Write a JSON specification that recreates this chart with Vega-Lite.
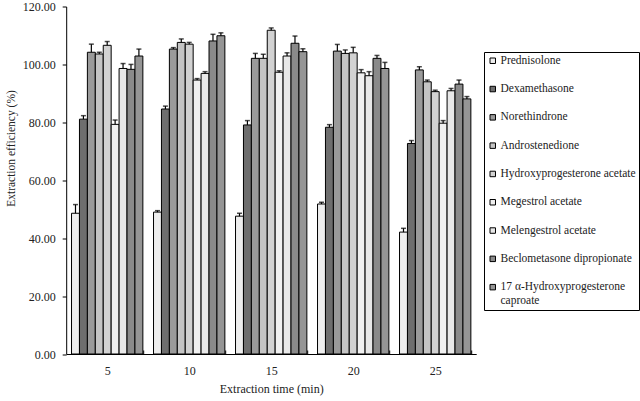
{
  "$schema": "https://vega.github.io/schema/vega-lite/v6.json",
  "width": 410,
  "height": 347.5,
  "autosize": {"type": "none"},
  "padding": {"left": 66.2, "top": 6.5, "right": 163.8, "bottom": 47},
  "background": "white",
  "config": {
    "view": {"stroke": null},
    "font": "Liberation Serif",
    "axis": {"labelFont": "Liberation Serif", "titleFont": "Liberation Serif", "labelFontSize": 12, "titleFontSize": 12, "titleFontWeight": "normal", "labelColor": "#222", "titleColor": "#222", "domainColor": "black", "tickColor": "black", "grid": false},
    "legend": {"labelFont": "Liberation Serif", "labelFontSize": 11.5, "labelColor": "#222"}
  },
  "data": {"values": [
    {"time": "5", "compound": "Prednisolone", "efficiency": 48.6, "upper": 51.6},
    {"time": "5", "compound": "Dexamethasone", "efficiency": 81.1, "upper": 82.3},
    {"time": "5", "compound": "Norethindrone", "efficiency": 104.2, "upper": 107.0},
    {"time": "5", "compound": "Androstenedione", "efficiency": 103.6, "upper": 104.2},
    {"time": "5", "compound": "Hydroxyprogesterone acetate", "efficiency": 106.6, "upper": 107.9},
    {"time": "5", "compound": "Megestrol acetate", "efficiency": 79.3, "upper": 80.8},
    {"time": "5", "compound": "Melengestrol acetate", "efficiency": 98.6, "upper": 100.3},
    {"time": "5", "compound": "Beclometasone dipropionate", "efficiency": 98.3, "upper": 100.0},
    {"time": "5", "compound": "17 α-Hydroxyprogesterone caproate", "efficiency": 102.9, "upper": 105.3},
    {"time": "10", "compound": "Prednisolone", "efficiency": 49.0, "upper": 49.5},
    {"time": "10", "compound": "Dexamethasone", "efficiency": 84.6, "upper": 85.6},
    {"time": "10", "compound": "Norethindrone", "efficiency": 105.3, "upper": 105.8},
    {"time": "10", "compound": "Androstenedione", "efficiency": 107.6, "upper": 108.8},
    {"time": "10", "compound": "Hydroxyprogesterone acetate", "efficiency": 107.0, "upper": 107.6},
    {"time": "10", "compound": "Megestrol acetate", "efficiency": 94.6, "upper": 95.1},
    {"time": "10", "compound": "Melengestrol acetate", "efficiency": 96.9, "upper": 97.5},
    {"time": "10", "compound": "Beclometasone dipropionate", "efficiency": 108.1, "upper": 110.4},
    {"time": "10", "compound": "17 α-Hydroxyprogesterone caproate", "efficiency": 109.9, "upper": 110.9},
    {"time": "15", "compound": "Prednisolone", "efficiency": 47.6, "upper": 48.6},
    {"time": "15", "compound": "Dexamethasone", "efficiency": 79.1, "upper": 80.6},
    {"time": "15", "compound": "Norethindrone", "efficiency": 102.1, "upper": 103.8},
    {"time": "15", "compound": "Androstenedione", "efficiency": 102.1, "upper": 103.5},
    {"time": "15", "compound": "Hydroxyprogesterone acetate", "efficiency": 111.8, "upper": 112.6},
    {"time": "15", "compound": "Megestrol acetate", "efficiency": 97.3, "upper": 97.8},
    {"time": "15", "compound": "Melengestrol acetate", "efficiency": 102.9, "upper": 104.0},
    {"time": "15", "compound": "Beclometasone dipropionate", "efficiency": 107.3, "upper": 109.8},
    {"time": "15", "compound": "17 α-Hydroxyprogesterone caproate", "efficiency": 104.4, "upper": 105.4},
    {"time": "20", "compound": "Prednisolone", "efficiency": 51.8, "upper": 52.4},
    {"time": "20", "compound": "Dexamethasone", "efficiency": 78.3, "upper": 79.2},
    {"time": "20", "compound": "Norethindrone", "efficiency": 104.6, "upper": 106.9},
    {"time": "20", "compound": "Androstenedione", "efficiency": 103.8, "upper": 105.0},
    {"time": "20", "compound": "Hydroxyprogesterone acetate", "efficiency": 104.0, "upper": 105.9},
    {"time": "20", "compound": "Megestrol acetate", "efficiency": 97.1, "upper": 98.2},
    {"time": "20", "compound": "Melengestrol acetate", "efficiency": 96.1, "upper": 97.5},
    {"time": "20", "compound": "Beclometasone dipropionate", "efficiency": 102.1, "upper": 103.1},
    {"time": "20", "compound": "17 α-Hydroxyprogesterone caproate", "efficiency": 98.6, "upper": 100.7},
    {"time": "25", "compound": "Prednisolone", "efficiency": 42.1, "upper": 43.4},
    {"time": "25", "compound": "Dexamethasone", "efficiency": 72.7, "upper": 73.7},
    {"time": "25", "compound": "Norethindrone", "efficiency": 98.1, "upper": 99.2},
    {"time": "25", "compound": "Androstenedione", "efficiency": 94.0, "upper": 94.6},
    {"time": "25", "compound": "Hydroxyprogesterone acetate", "efficiency": 90.6, "upper": 91.1},
    {"time": "25", "compound": "Megestrol acetate", "efficiency": 79.7, "upper": 80.6},
    {"time": "25", "compound": "Melengestrol acetate", "efficiency": 90.9, "upper": 91.7},
    {"time": "25", "compound": "Beclometasone dipropionate", "efficiency": 93.2, "upper": 94.6},
    {"time": "25", "compound": "17 α-Hydroxyprogesterone caproate", "efficiency": 88.1, "upper": 88.9}
  ]},
  "encoding": {
    "x": {"field": "time", "type": "nominal", "sort": ["5", "10", "15", "20", "25"],
      "scale": {"paddingInner": 0.13, "paddingOuter": 0.065},
      "axis": {"title": "Extraction time (min)", "labelAngle": 0, "tickBand": "extent", "tickSize": -4, "labelPadding": 15, "titlePadding": 7}},
    "xOffset": {"field": "compound", "type": "nominal",
      "sort": ["Prednisolone", "Dexamethasone", "Norethindrone", "Androstenedione", "Hydroxyprogesterone acetate", "Megestrol acetate", "Melengestrol acetate", "Beclometasone dipropionate", "17 α-Hydroxyprogesterone caproate"],
      "scale": {"paddingInner": 0, "paddingOuter": 0}}
  },
  "layer": [
    {
      "mark": {"type": "bar", "stroke": "black", "strokeWidth": 1},
      "encoding": {
        "y": {"field": "efficiency", "type": "quantitative",
          "scale": {"domain": [0, 120], "nice": false},
          "axis": {"title": "Extraction efficiency (%)", "values": [0, 20, 40, 60, 80, 100, 120], "format": ".2f", "tickSize": 4, "labelPadding": 7, "titleFontSize": 11.5, "titleX": -55, "titleY": 141.5, "titleBaseline": "middle"}},
        "fill": {"field": "compound", "type": "nominal",
          "scale": {
            "domain": ["Prednisolone", "Dexamethasone", "Norethindrone", "Androstenedione", "Hydroxyprogesterone acetate", "Megestrol acetate", "Melengestrol acetate", "Beclometasone dipropionate", "17 α-Hydroxyprogesterone caproate"],
            "range": ["#eeeeee", "#6e6e6e", "#9a9a9a", "#c4c4c4", "#d2d2d2", "#f0f0f0", "#e8e8e8", "#8a8a8a", "#959595"]},
          "legend": {"title": null, "orient": "none", "legendX": 417.8, "legendY": 45.5,
            "strokeColor": "black", "padding": 3, "rowPadding": 15.3, "symbolType": "square", "symbolSize": 30,
            "symbolStrokeColor": "black", "symbolStrokeWidth": 1, "symbolOpacity": 1, "labelOffset": 2,
            "labelLimit": 200, "labelFont": "Liberation Serif", "labelFontSize": 11.5,
            "labelExpr": "datum.label == '17 α-Hydroxyprogesterone caproate' ? ['17 α-Hydroxyprogesterone', 'caproate'] : datum.label"}}
      }
    },
    {
      "mark": {"type": "rule", "color": "black", "strokeWidth": 1.2},
      "encoding": {
        "y": {"field": "efficiency", "type": "quantitative"},
        "y2": {"field": "upper"}
      }
    },
    {
      "mark": {"type": "tick", "color": "black", "orient": "horizontal", "size": 5, "thickness": 1.5},
      "encoding": {
        "y": {"field": "upper", "type": "quantitative"}
      }
    }
  ]
}
